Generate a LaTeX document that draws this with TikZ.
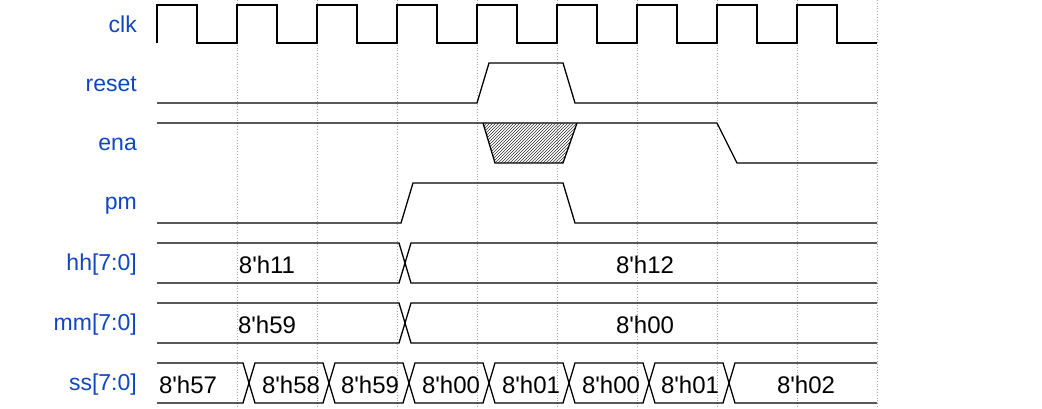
\documentclass[tikz,border=0pt]{standalone}
\usepackage{fontspec}
\setmainfont{Liberation Sans}
\newfontfamily\valfont{Liberation Sans}
\usetikzlibrary{patterns}
\begin{document}
\begin{tikzpicture}[x=1pt,y=-1pt,
 sig/.style={line width=1.3pt,line join=miter},
 lab/.style={anchor=east,text=lblue,font=\valfont\fontsize{23}{23}\selectfont,inner sep=0},
 val/.style={font=\valfont\fontsize{24}{24}\selectfont,inner sep=0}]
\definecolor{lblue}{HTML}{1046C0}
\useasboundingbox (0,0) rectangle (1042,409);
\foreach \x in {237,317,...,877}
 \draw[gray!70,dotted,line width=0.8pt] (\x,0) -- (\x,409);
\node[lab] (l1) at (137,24) {clk};
\node[lab] (l2) at (137,84) {reset};
\node[lab] (l3) at (137,144) {ena};
\node[lab] (l4) at (137,206) {pm};
\node[lab] (l5) at (137,265) {hh[7:0]};
\node[lab] (l6) at (137,325) {mm[7:0]};
\node[lab] (l7) at (137,385) {ss[7:0]};
% clk
\draw[sig] (157,43) -- (157,5)
 \foreach \x in {157,237,...,717}{ -- (\x,5) -- (\x+40,5) -- (\x+40,43) -- (\x+80,43) -- (\x+80,5)}
 -- (837,5) -- (837,43) -- (877,43);
% reset
\draw[sig] (157,103) -- (477,103) -- (489,63) -- (563,63) -- (575,103) -- (877,103);
% ena
\draw[sig] (157,123) -- (483,123) -- (577,123) -- (717,123) -- (737,163) -- (877,163);
\draw[sig,pattern=north east lines,pattern color=black!80] (483,123) -- (495,163) -- (563,163) -- (577,123);
% pm
\draw[sig] (157,223) -- (401,223) -- (413,183) -- (563,183) -- (575,223) -- (877,223);
% buses
\foreach \y/\a/\b in {243/8'h11/8'h12, 303/8'h59/8'h00}{
 \draw[sig] (157,\y) -- (399,\y) -- (411,\y+40) -- (877,\y+40);
 \draw[sig] (157,\y+40) -- (399,\y+40) -- (411,\y) -- (877,\y);
 \node[val] at (267,\y+22) {\a};
 \node[val] at (645,\y+22) {\b};
}
% ss
\draw[sig] (157,363) -- (243,363) -- (255,403) -- (323,403) -- (335,363) -- (403,363) -- (415,403) -- (483,403) -- (495,363) -- (563,363) -- (575,403) -- (643,403) -- (655,363) -- (723,363) -- (735,403) -- (877,403);
\draw[sig] (157,403) -- (243,403) -- (255,363) -- (323,363) -- (335,403) -- (403,403) -- (415,363) -- (483,363) -- (495,403) -- (563,403) -- (575,363) -- (643,363) -- (655,403) -- (723,403) -- (735,363) -- (877,363);
\foreach \x/\t in {188/8'h57,291/8'h58,370/8'h59,451/8'h00,531/8'h01,611/8'h00,690/8'h01,806/8'h02}
 \node[val] at (\x,385) {\t};
\end{tikzpicture}
\end{document}
